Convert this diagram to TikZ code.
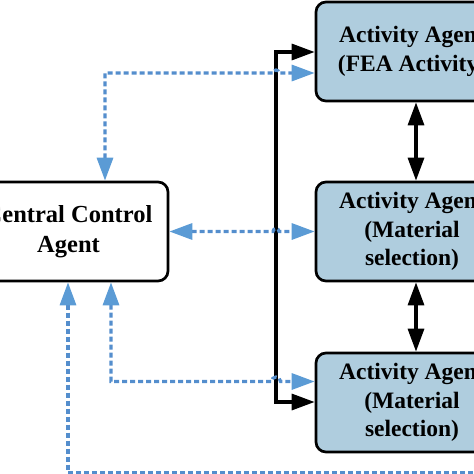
\documentclass[tikz,border=0pt]{standalone}
\usepackage{fontspec}
\setmainfont{Liberation Serif}
\usetikzlibrary{arrows.meta}
\definecolor{boxfill}{RGB}{175,205,222}
\definecolor{bluec}{RGB}{84,142,205}
\definecolor{tipblue}{RGB}{91,155,213}
\begin{document}
\begin{tikzpicture}[x=1pt,y=-1pt,
  >={Triangle[length=23pt,width=16pt]},
  agent/.style={draw=black, line width=2.7pt, rounded corners=10pt, align=center, inner sep=0pt},
  act/.style={agent, fill=boxfill, minimum width=192pt, minimum height=99pt, font=\fontsize{23.5}{28.5}\selectfont\bfseries},
  ctrl/.style={agent, fill=white, minimum width=199pt, minimum height=99pt, font=\fontsize{24.5}{30}\selectfont\bfseries},
  blk/.style={line width=3.2pt, draw=black},
  bl/.style={line width=3.2pt, draw=bluec, dash pattern=on 5pt off 3pt,
    >={Triangle[length=23pt,width=16pt,color=tipblue]}}]
\useasboundingbox (0,0) rectangle (474,474);
\clip (0,0) rectangle (474,474);
\node[act] (top) at (412,51.5) {Activity Agent\\(FEA Activity)};
\node[act] (mid) at (412,231.5) {Activity Agent\\(Material\\selection)};
\node[act] (bot) at (412,402.5) {Activity Agent\\(Material\\selection)};
\node[ctrl] (cen) at (68.5,231.5) {Central Control\\Agent};
\coordinate (busT) at (276,52);
\coordinate (busB) at (276,402);
\coordinate (c416) at (416,0);
\coordinate (c105) at (105,0);
\coordinate (c111) at (111,0);
\coordinate (c68) at (68,0);
\coordinate (y73) at (0,73);
\coordinate (y381) at (0,381.5);
\coordinate (far) at (540,472.5);
% black connectors
\draw[blk,<->] (top.west |- busT) -- (busT) -- (busB) -- (bot.west |- busB);
\draw[blk,<->] (top.south -| c416) -- (mid.north -| c416);
\draw[blk,<->] (mid.south -| c416) -- (bot.north -| c416);
% blue dashed connectors
\draw[bl,<->] (cen.north -| c105) -- (c105 |- y73) -- (273,73) arc[start angle=180,end angle=360,radius=3] -- (top.west |- y73);
\draw[bl,<->] (cen.east) -- (273,231.5) arc[start angle=180,end angle=360,radius=3] -- (mid.west);
\draw[bl,<->] (cen.south -| c111) -- (c111 |- y381) -- (271.5,381.5) arc[start angle=180,end angle=360,radius=4.5] -- (bot.west |- y381);
\draw[bl,<-] (cen.south -| c68) -- (c68 |- far) -- (far);
\end{tikzpicture}
\end{document}
